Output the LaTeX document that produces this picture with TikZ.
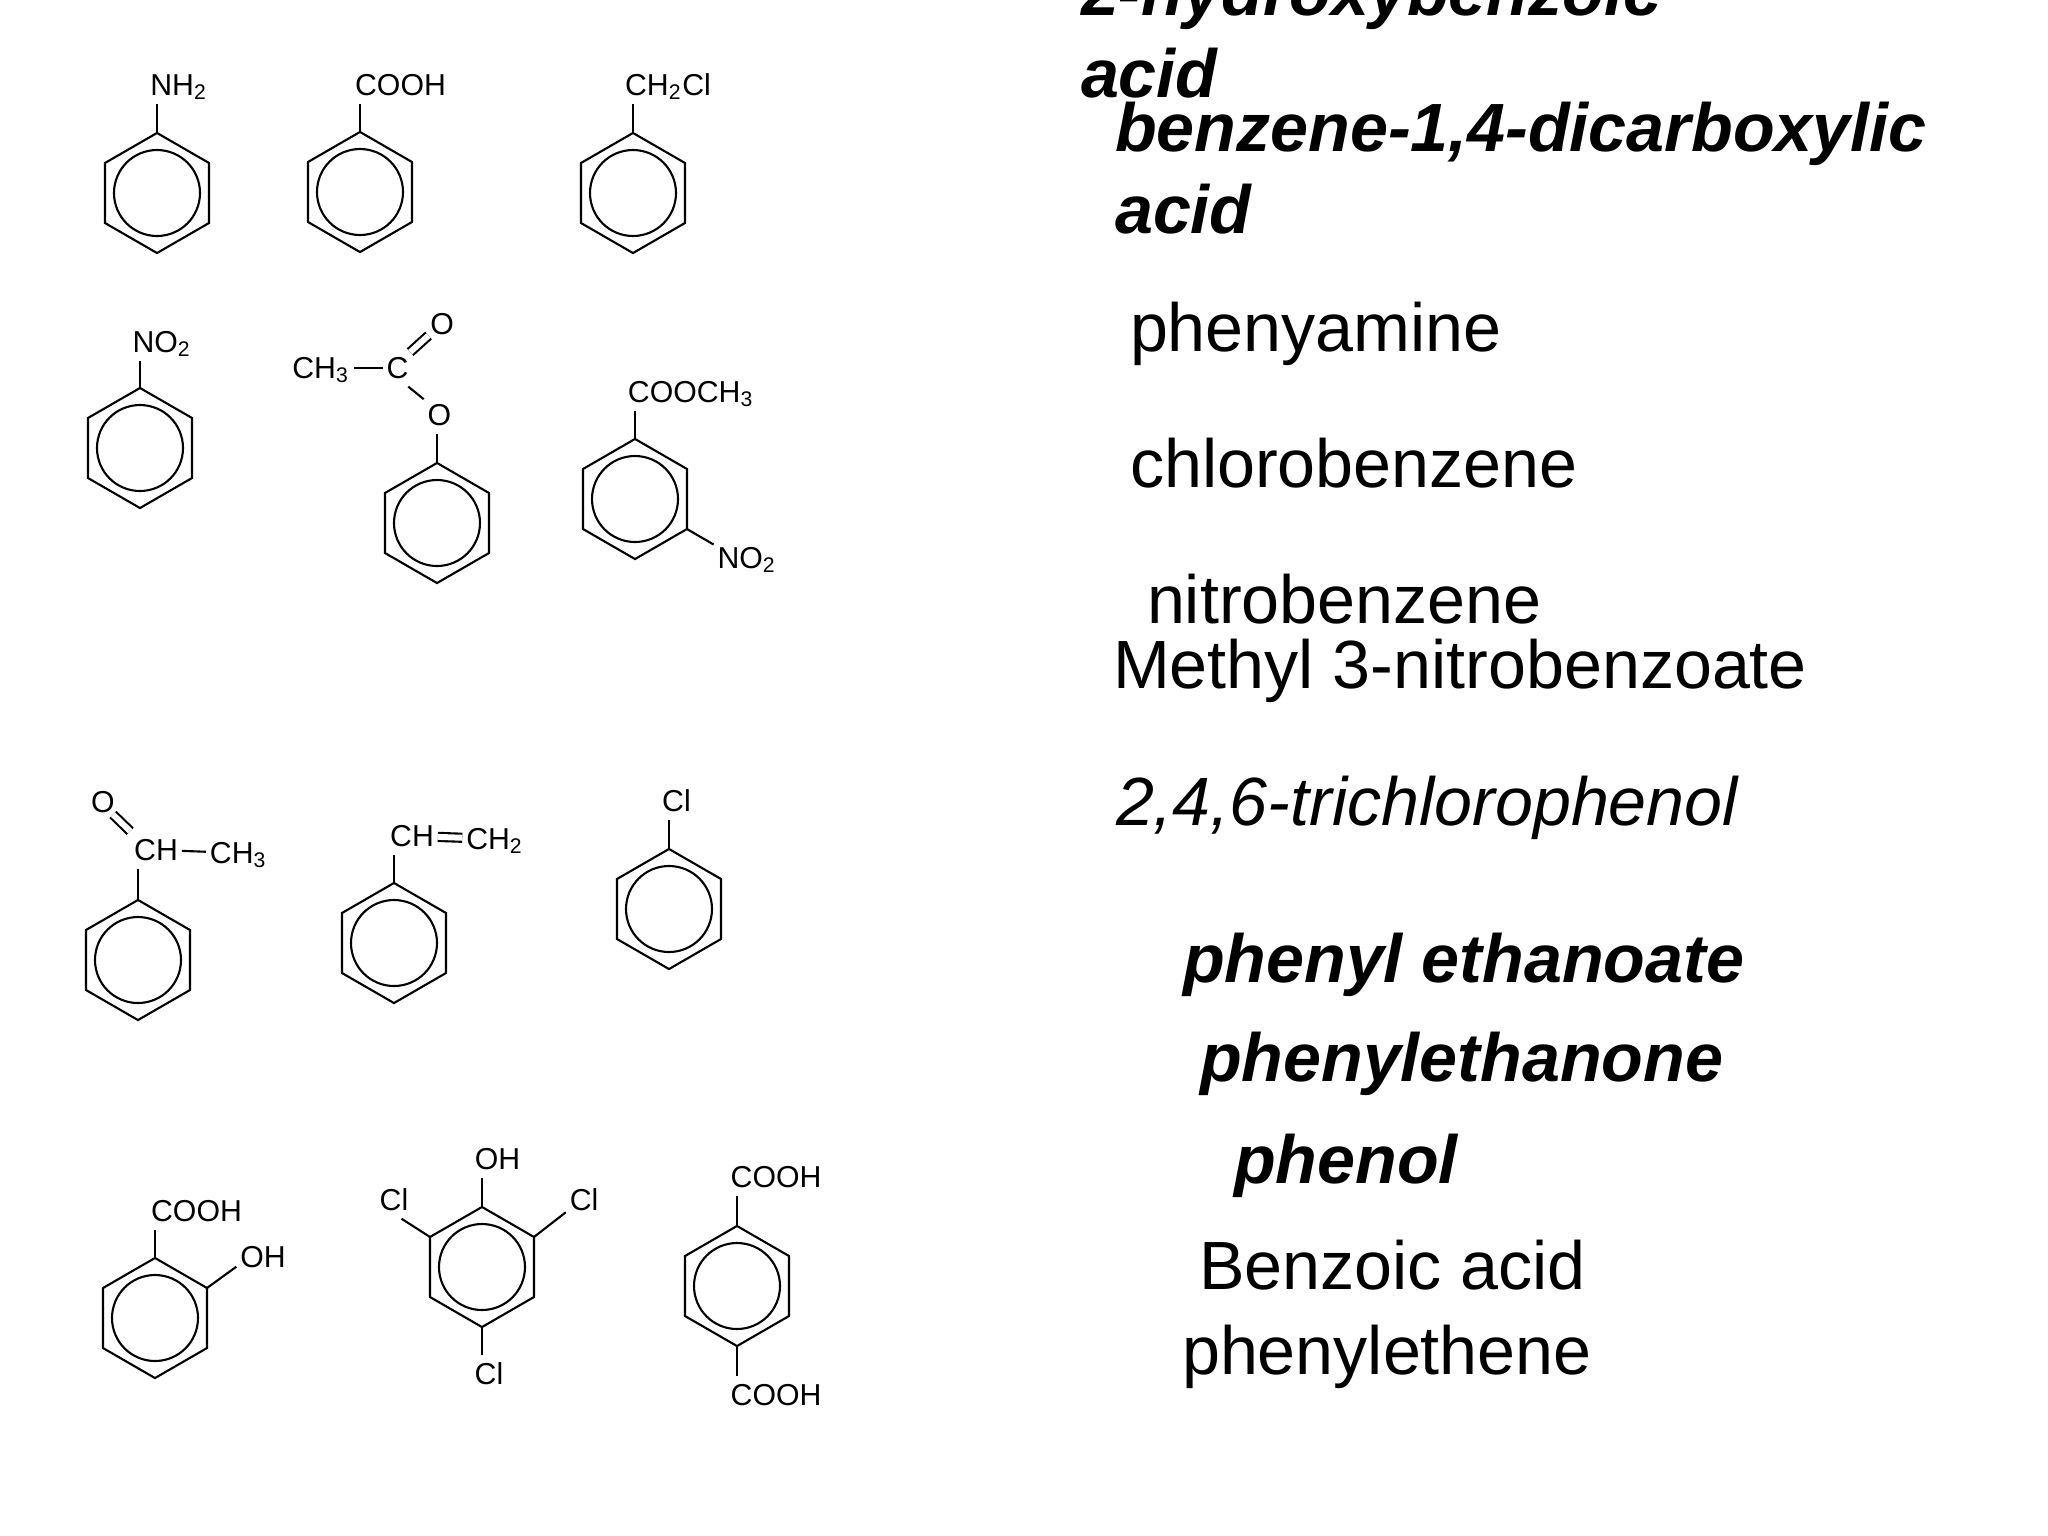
\documentclass[tikz,border=0pt]{standalone}
\usepackage{fontspec}
\setmainfont{Liberation Sans}
\usetikzlibrary{shapes.geometric}

\begin{document}
\begin{tikzpicture}[x=0.01cm, y=-0.01cm, line width=0.6pt,
        hex/.style = {draw, regular polygon, regular polygon sides=6, regular polygon rotate=-30, minimum size=12mm, inner sep=0pt, outer sep=0pt},
        chem/.style = {font=\fontsize{8.6}{10}\selectfont, text height=6.1pt, text depth=0pt, inner xsep=0.4mm, inner ysep=0.8mm, outer sep=0pt},
        dbl/.style = {double, double distance=1.7pt},
        plain/.style = {anchor=base west, inner sep=0pt, align=left, font=\fontsize{19.4}{23.3}\selectfont},
        slant/.style = {plain, font=\fontsize{19.4}{23.3}\selectfont\itshape},
        heavy/.style = {plain, font=\fontsize{19.4}{23.3}\selectfont\bfseries\itshape}]
        \clip (0,0) rectangle (2048,1536);
        % rings
        \node[hex] (a) at (157,193) {};
        \node[hex] (b) at (360,192) {};
        \node[hex] (c) at (633,193) {};
        \node[hex] (d) at (140,448) {};
        \node[hex] (e) at (437,523) {};
        \node[hex] (f) at (635,499) {};
        \node[hex] (g) at (138,960) {};
        \node[hex] (h) at (394,943) {};
        \node[hex] (i) at (669,909) {};
        \node[hex] (j) at (155,1318) {};
        \node[hex] (k) at (482,1267) {};
        \node[hex] (l) at (737,1286) {};
        \foreach \r in {a,b,c,d,e,f,g,h,i,j,k,l}
            \draw (\r) circle [radius=43];
        % top row
        \node[chem, node distance=10.8mm] (nh) [above of=a, xshift=2.2mm] {NH\textsubscript{2}};
        \node[chem, node distance=10.7mm] (cb) [above of=b, xshift=4.05mm] {COOH};
        \node[chem, node distance=10.8mm] (cl) [above of=c, xshift=3.5mm] {CH\textsubscript{2}Cl};
        \draw (a.corner 2) -- (a.corner 2 |- nh.south);
        \draw (b.corner 2) -- (b.corner 2 |- cb.south);
        \draw (c.corner 2) -- (c.corner 2 |- cl.south);
        % second row
        \node[chem, node distance=10.6mm] (no) [above of=d, xshift=2.2mm] {NO\textsubscript{2}};
        \node[chem, node distance=10.8mm] (ox) [above of=e, xshift=0.25mm] {O};
        \node[chem, node distance=4.2mm] (cc) [left of=ox, yshift=4.7mm] {C};
        \node[chem, node distance=7.65mm] (me) [left of=cc] {CH\textsubscript{3}};
        \node[chem, node distance=6.3mm] (ko) [above right of=cc] {O};
        \node[chem, node distance=10.7mm] (es) [above of=f, xshift=5.6mm] {COOCH\textsubscript{3}};
        \node[chem, node distance=11.2mm] (nf) [right of=f, yshift=-5.9mm] {NO\textsubscript{2}};
        \draw (d.corner 2) -- (d.corner 2 |- no.south);
        \draw (e.corner 2) -- (e.corner 2 |- ox.south);
        \draw (cc.-60) -- (ox.135);
        \draw (me) -- (cc);
        \draw[dbl, shorten <=-0.3mm, shorten >=-0.3mm] (cc.50) -- (ko.222);
        \draw (f.corner 2) -- (f.corner 2 |- es.south);
        \draw (f.corner 6) -- (nf.158);
        % third row
        \node[chem, node distance=11mm] (ck) [above of=g, xshift=1.8mm] {CH};
        \node[chem, node distance=5.3mm] (og) [left of=ck, yshift=4.85mm] {O};
        \node[chem, node distance=8.25mm] (mk) [right of=ck, yshift=-0.3mm] {CH\textsubscript{3}};
        \node[chem, node distance=10.7mm] (cv) [above of=h, xshift=1.8mm] {CH};
        \node[chem, node distance=8.28mm] (ct) [right of=cv, yshift=-0.3mm] {CH\textsubscript{2}};
        \node[chem, node distance=10.8mm] (ci) [above of=i, xshift=0.75mm] {Cl};
        \draw (g.corner 2) -- (g.corner 2 |- ck.south);
        \draw[dbl, shorten >=-0.8mm] (ck.north west) -- (og.south east);
        \draw (ck) -- (mk);
        \draw (h.corner 2) -- (h.corner 2 |- cv.south);
        \draw[dbl] (cv) -- (ct);
        \draw (i.corner 2) -- (i.corner 2 |- ci.south);
        % bottom row
        \node[chem, node distance=10.7mm] (cj) [above of=j, xshift=4.15mm] {COOH};
        \node[chem, node distance=10.8mm] (oj) [right of=j, yshift=6.1mm] {OH};
        \node[chem, node distance=10.8mm] (ok) [above of=k, xshift=1.55mm] {OH};
        \node[chem, node distance=8.8mm] (cm) [left of=k, yshift=6.7mm] {Cl};
        \node[chem, node distance=10.2mm] (cn) [right of=k, yshift=6.7mm] {Cl};
        \node[chem, node distance=10.7mm] (cq) [below of=k, xshift=0.7mm] {Cl};
        \node[chem, node distance=10.9mm] (tu) [above of=l, xshift=3.9mm] {COOH};
        \node[chem, node distance=10.9mm] (td) [below of=l, xshift=3.9mm] {COOH};
        \draw (j.corner 2) -- (j.corner 2 |- cj.south);
        \draw (j.corner 1) -- (oj.200);
        \draw (k.corner 2) -- (k.corner 2 |- ok.south);
        \draw (k.corner 3) -- (cm.-68);
        \draw (k.corner 1) -- (cn.214);
        \draw (k.corner 5) -- (k.corner 5 |- cq.north);
        \draw (l.corner 2) -- (l.corner 2 |- tu.south);
        \draw (l.corner 5) -- (l.corner 5 |- td.north);
        % names
        \node[heavy] (hb) at (1080,97) {2-hydroxybenzoic\\acid};
        \node[heavy] (bd) at (1114,233) {benzene-1,4-dicarboxylic\\acid};
        \node[plain] (pa) at (1129,351) {phenyamine};
        \node[plain] (cz) at (1129,487) {chlorobenzene};
        \node[plain] (nz) at (1146,623) {nitrobenzene};
        \node[plain] (mn) at (1112,688) {Methyl 3-nitrobenzoate};
        \node[slant] (tp) at (1115,825) {2,4,6-trichlorophenol};
        \node[heavy] (pe) at (1182,982) {phenyl ethanoate};
        \node[heavy] (po) at (1199,1081) {phenylethanone};
        \node[heavy] (ph) at (1233,1183) {phenol};
        \node[plain] (ba) at (1198,1289) {Benzoic acid};
        \node[plain] (pt) at (1181,1374) {phenylethene};
    \end{tikzpicture}
\end{document}
